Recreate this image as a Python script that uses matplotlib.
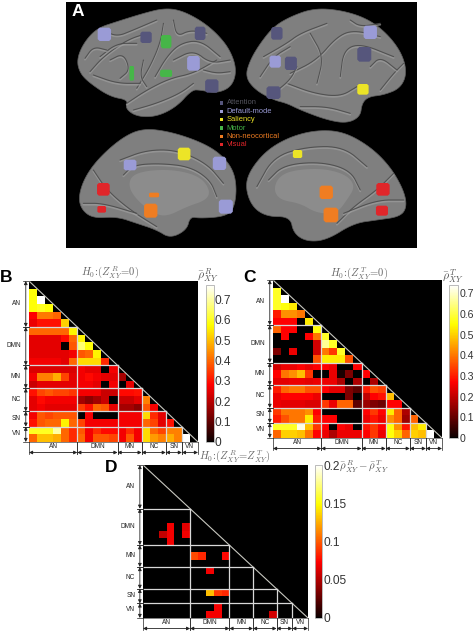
import numpy as np
import matplotlib
matplotlib.use("Agg")
import matplotlib.pyplot as plt
from matplotlib.patches import Polygon, Rectangle
from matplotlib.colors import Normalize, ListedColormap
from matplotlib.cm import ScalarMappable

plt.rcParams['font.family'] = ['Liberation Sans', 'DejaVu Sans']
plt.rcParams['mathtext.fontset'] = 'cm'

W, H = 474, 633
GROUPS = ['AN', 'DMN', 'MN', 'NC', 'SN', 'VN']
GROUP_SIZES = [6, 5, 3, 3, 2, 2]

RHO_R = [
 [],
 [.58],
 [.58,.78],
 [.58,.6,.58],
 [.28,.42,.42,.4],
 [.26,.3,.3,.3,.52],
 [.4,.4,.4,.4,.4,.56],
 [.25,.25,.25,.25,.29,.4,.56],
 [.25,.25,.25,.25,0,.38,.66,.58],
 [.25,.25,.25,.25,.25,.27,.38,.4,.56],
 [.27,.27,.27,.27,.25,.4,.53,.53,.53,.33],
 [.24,.24,.24,.24,.24,.24,.27,.25,.25,0,.27],
 [.27,.43,.43,.48,.36,.25,.27,.29,.27,.25,.25,.18],
 [.22,.25,.25,.25,.25,.25,.27,.27,.25,0,.27,0,.25],
 [.3,.36,.38,.36,.36,.34,.27,.27,.27,.22,.22,.29,.29,.3],
 [.25,.29,.27,.27,.27,.27,.18,.15,.18,.22,0,.22,.22,.25,.43],
 [.25,.27,.25,.25,.25,.25,.35,.3,.4,.38,.25,.18,.18,.15,.38,.27],
 [.27,.38,.36,.38,.38,.38,0,.27,0,0,0,.27,.27,.27,.53,.33,.25],
 [.3,.38,.4,.4,.56,.4,.36,.27,.27,.27,.27,.27,.27,.27,.4,.36,.25,.3],
 [.6,.6,.6,.7,.4,.33,.38,.27,.33,.29,.29,.27,.33,.27,.53,.4,.36,.43,.43],
 [.4,.5,.5,.48,.4,.33,.4,.27,.38,.38,.36,.27,.38,.27,.53,.46,.43,.48,.43,.78],
]
RHO_T = [
 [],
 [.58],
 [.58,.74],
 [.58,.56,.53],
 [.3,.43,.43,.4],
 [.27,.27,.27,0,.53],
 [.38,.27,.27,0,0,.56],
 [0,.27,0,0,.27,.4,.58],
 [0,0,0,0,0,.22,.66,.58],
 [.13,0,.25,0,0,.22,.4,.33,.58],
 [0,0,0,0,0,.36,.53,.53,.53,.36],
 [.22,.25,.25,.27,.25,.27,.27,.25,0,0,.27],
 [.27,.4,.43,.48,.33,0,0,.25,.02,.13,0,.27],
 [.24,.24,.25,.25,.24,.25,.25,.25,.18,0,.18,0,.18],
 [.3,.38,.4,.4,.36,.36,.27,.24,.24,.13,.09,.3,.36,.34],
 [.25,.27,.27,.27,.27,.25,0,0,0,.13,0,.2,.27,.29,.48],
 [.25,.24,.24,.24,.23,.23,.33,.25,.38,.38,.09,.16,.13,.11,.27,.27],
 [.33,.4,.4,.4,.43,.27,0,0,0,0,0,.27,.33,.27,.53,.38,.18],
 [.3,.36,.4,.4,.53,.3,.27,.27,0,0,0,.25,.29,.25,.43,.38,.16,.38],
 [.58,.58,.58,.72,.48,.33,.27,0,.27,.25,0,.29,.33,.27,.56,.43,.29,.48,.53],
 [.38,.5,.5,.48,.4,.27,.25,.18,.25,.25,.25,.27,.33,.25,.56,.5,.38,.5,.48,.74],
]
DIFF_ROW = [8, 8, 9, 9, 9, 10, 12, 12, 12, 14, 17, 17, 17, 19, 20, 20, 20]
DIFF_COL = [3, 5, 2, 3, 5, 3, 6, 7, 10, 8, 8, 9, 10, 9, 8, 9, 16]
DIFF_VAL = [.07, .065, .055, .07, .07, .07, .095, .085, .075, .07, .13, .09, .085, .07, .07, .07, .06]

# Panel A, in pixels of a 3x enlarged view of the picture
BRAIN_OUTLINES = [
 [(50,180),(70,130),(110,85),(170,65),(250,40),(310,25),(360,30),(420,60),(470,100),(510,150),(530,210),(515,260),(470,280),(420,270),(395,270),(350,320),(290,350),(230,350),(195,325),(205,300),(150,290),(90,250),(60,220)],
 [(555,230),(570,180),(600,130),(640,80),(690,50),(760,25),(840,30),(920,55),(980,100),(1025,160),(1040,220),(1020,265),(970,285),(925,290),(905,310),(900,350),(860,370),(800,360),(720,330),(680,310),(640,300),(585,270)],
 [(55,590),(75,530),(120,470),(190,410),(250,385),(330,395),(420,425),(480,460),(520,510),(530,570),(520,630),(490,650),(420,655),(390,650),(380,690),(330,715),(290,690),(230,670),(170,650),(100,655),(65,630)],
 [(555,560),(570,510),(620,450),(690,410),(770,390),(850,395),(930,440),(990,500),(1030,570),(1040,620),(1020,650),(950,660),(880,670),(800,720),(740,725),(700,700),(690,650),(620,650),(575,620)],
]
MEDIAL_WALLS = [
 [(205,560),(215,525),(270,510),(350,510),(420,530),(450,570),(440,600),(380,620),(320,650),(280,640),(230,600)],
 [(640,570),(655,530),(700,510),(790,505),(860,525),(885,560),(860,600),(830,640),(770,640),(720,610),(660,600)],
]
SULCI = [
 [(200,310),(260,270),(330,235),(400,220),(470,180)],
 [(230,265),(270,200),(300,130),(310,70)],
 [(285,230),(320,170),(360,130),(420,120),(480,170)],
 [(90,215),(130,170),(200,120),(260,100)],
 [(120,170),(170,130),(230,130)],
 [(100,225),(170,250),(240,250)],
 [(340,180),(400,150),(450,190),(510,180)],
 [(130,90),(170,110),(220,90),(290,60)],
 [(150,180),(190,160),(210,210),(180,235)],
 [(340,60),(350,110),(390,90),(440,100)],
 [(430,210),(470,220),(510,215)],
 [(220,330),(290,310),(360,280),(400,250)],
 [(250,180),(240,230),(260,260)],
 [(75,175),(100,140),(140,150)],
 [(680,250),(760,280),(840,290),(890,260)],
 [(610,170),(680,130),(720,100),(800,70)],
 [(690,220),(770,180),(830,110),(880,90),(960,110)],
 [(770,250),(790,170),(750,100)],
 [(840,230),(850,150),(900,130),(1000,170)],
 [(960,270),(1000,220),(1030,190)],
 [(600,230),(640,170),(690,140)],
 [(720,320),(800,320),(870,340)],
 [(640,280),(690,240),(710,200)],
 [(870,60),(900,80),(960,70)],
 [(930,200),(960,170),(1010,210)],
 [(190,525),(220,495),(300,490),(390,500),(450,540),(470,590)],
 [(180,480),(260,450),(350,450),(440,490),(490,550)],
 [(100,510),(140,570),(210,630),(290,680)],
 [(70,610),(130,610),(230,640)],
 [(625,540),(670,495),(780,485),(870,510),(900,570)],
 [(590,560),(640,470),(740,440),(850,440),(920,500)],
 [(1000,520),(950,570),(880,620),(830,670)],
 [(1030,600),(950,600),(850,640)],
]
PATCH_X = [133,258,420,400,455, 650,930,912,692,645,640,
           210,478,497,372,282,272,130,125, 712,798,812,968,965,
           318,215,318,908]
PATCH_Y = [103,112,100,190,258, 100,97,163,190,185,278,
           495,490,620,462,585,632,568,628, 462,577,645,568,632,
           220,220,125,268]
PATCH_W = [40,34,32,38,40, 34,40,42,36,34,42,
           38,40,42,38,30,40,38,26, 28,40,44,40,36,
           36,14,32,34]
PATCH_H = [40,34,40,44,40, 38,40,44,40,36,38,
           32,40,42,38,14,42,38,20, 24,40,44,38,30,
           22,44,40,32]
PATCH_CAT = ['D','A','A','D','A', 'A','D','A','A','D','A',
             'D','D','D','S','N','N','V','V', 'S','N','N','V','V',
             'M','M','M','S']
CATEGORY_KEYS = ['A','D','S','M','N','V']
CATEGORY_NAMES = ['Attention','Default-mode','Saliency','Motor','Non-neocortical','Visual']
CATEGORY_COLORS = ['#56567c','#9a9bd6','#ece427','#46b648','#ef7d22','#e0262a']
LEGEND_TEXT = ['#55555f','#9a9bd6','#ece427','#46b648','#ef7d22','#e0262a']

def chaikin(pts, n=3):
    p = np.array(pts, float)
    for _ in range(n):
        q = np.roll(p, -1, axis=0)
        p = np.column_stack([.75*p+.25*q, .25*p+.75*q]).reshape(-1, 2)
    return p

def chaikin_open(pts, n=3):
    p = np.array(pts, float)
    for _ in range(n):
        a, b = p[:-1], p[1:]
        mid = np.column_stack([.75*a+.25*b, .25*a+.75*b]).reshape(-1, 2)
        p = np.vstack([p[0], mid, p[-1]])
    return p

def cut_corners(x, y, w, h, f=.14):
    dx, dy = w*f, h*f
    l, r, t, b = x-w/2, x+w/2, y-h/2, y+h/2
    return [(l+dx, t), (r-dx, t), (r, t+dy), (r, b-dy), (r-dx, b), (l+dx, b), (l, b-dy), (l, t+dy)]

def axes_px(x0, y0, x1, y1, **kw):
    return fig.add_axes([x0/W, 1-y1/H, (x1-x0)/W, (y1-y0)/H], **kw)

fig = plt.figure(figsize=(W/100, H/100), dpi=100, facecolor='white')

# ---------- panel A ----------
axA = axes_px(66, 2, 417, 248, facecolor='black')
axA.set_xlim(18, 1070); axA.set_ylim(744, 6)
axA.set_xticks([]); axA.set_yticks([])
for s in axA.spines.values():
    s.set_visible(False)
for o in BRAIN_OUTLINES:
    axA.add_patch(Polygon(chaikin(o), closed=True, fc='#7f7f7f', ec='#5e5e5e', lw=.5))
for o in MEDIAL_WALLS:
    axA.add_patch(Polygon(chaikin(o), closed=True, fc='#8c8c8c', ec='none'))
for l in SULCI:
    c = chaikin_open(l)
    axA.plot(c[:, 0], c[:, 1]+4, color='#a0a0a0', lw=1.3, alpha=.65, solid_capstyle='round')
    axA.plot(c[:, 0], c[:, 1], color='#4c4c4c', lw=.8, alpha=.9, solid_capstyle='round')
cmapcat = dict(zip(CATEGORY_KEYS, CATEGORY_COLORS))
for x, y, w, h, k in zip(PATCH_X, PATCH_Y, PATCH_W, PATCH_H, PATCH_CAT):
    axA.add_patch(Polygon(cut_corners(x, y, w, h), closed=True, fc=cmapcat[k], ec='none', zorder=3))
for i, (name, col, tc) in enumerate(zip(CATEGORY_NAMES, CATEGORY_COLORS, LEGEND_TEXT)):
    y = 309+25*i
    axA.add_patch(Rectangle((479, y-5), 11, 10, fc=col, ec='none', zorder=4))
    axA.text(500, y, name, color=tc, fontsize=5.4, va='center', ha='left', zorder=4)
axA.text(36, 36, 'A', color='white', fontsize=12.5, fontweight='bold', va='center', ha='left')

# ---------- heat maps ----------
_hot = plt.get_cmap('hot')(np.linspace(0, 1, 256))
_hot[0] = (0, 0, 0, 1)
HOT = ListedColormap(_hot)

def full_matrix(rows):
    m = np.zeros((21, 21))
    for i, r in enumerate(rows):
        m[i, :len(r)] = r
    return m

def heat(box, cbox, m, vmax, ticks, ticklabels, title, title_xy, cblabel, cblabel_xy, letter, letter_xy,
         ticksize=8.6, labelsize=8.5):
    ax = axes_px(*box)
    norm = Normalize(0, vmax)
    ax.pcolormesh(np.arange(22), np.arange(22), m, cmap=HOT, norm=norm, rasterized=True)
    ax.set_xlim(0, 21); ax.set_ylim(21, 0)
    ax.set_xticks([]); ax.set_yticks([])
    for s in ax.spines.values():
        s.set_visible(False)
    row_px = (box[3]-box[1])/21
    edges = np.concatenate([[0], np.cumsum(GROUP_SIZES)])
    ax.plot([0, 21], [0, 21], color='#c8c8c0', lw=.8)
    for b in edges[1:-1]:
        ax.plot([0, b], [b, b], color='#d8d8d8', lw=.9)
        ax.plot([b, b], [b, 21], color='#d8d8d8', lw=.9)
    ytext = 21+4.5/row_px
    yarrow = 21+10.5/row_px
    ytick = 21+12/row_px
    for a, b, name in zip(edges[:-1], edges[1:], GROUPS):
        mid = (a+b)/2
        ax.text(mid, ytext, name, fontsize=4.7, ha='center', va='center', color='#222222', clip_on=False)
        ax.annotate('', xy=(a, yarrow), xytext=(b, yarrow), annotation_clip=False,
                    arrowprops=dict(arrowstyle='<|-|>,head_width=.1,head_length=.2', lw=.6, color='#222222', shrinkA=0, shrinkB=0))
        ax.plot([a, a], [21, ytick], color='#222222', lw=.5, clip_on=False)
        ax.plot([b, b], [21, ytick], color='#222222', lw=.5, clip_on=False)
        ax.annotate('', xy=(-.4, a), xytext=(-.4, b), annotation_clip=False,
                    arrowprops=dict(arrowstyle='<|-|>,head_width=.1,head_length=.2', lw=.6, color='#222222', shrinkA=0, shrinkB=0))
        ax.plot([-.8, 0], [a, a], color='#222222', lw=.5, clip_on=False)
        ax.plot([-.8, 0], [b, b], color='#222222', lw=.5, clip_on=False)
        ax.text(-1.0, mid-.1, name, fontsize=4.7, ha='right', va='center', color='#222222', clip_on=False)
    ax.plot([0, 21], [21, 21], color='#222222', lw=.4, clip_on=False)
    cax = axes_px(*cbox)
    cb = fig.colorbar(ScalarMappable(norm=norm, cmap=HOT), cax=cax)
    cb.set_ticks(ticks)
    cb.set_ticklabels(ticklabels)
    cb.ax.tick_params(length=0, labelsize=ticksize, pad=1, labelcolor='#333333')
    cb.outline.set_edgecolor('#b0b0b0')
    cb.outline.set_linewidth(.6)
    fig.text(title_xy[0]/W, 1-title_xy[1]/H, title, fontsize=7.6, color='#666666', ha='center', va='center')
    fig.text(cblabel_xy[0]/W, 1-cblabel_xy[1]/H, cblabel, fontsize=labelsize, color='#555555', ha='center', va='center')
    fig.text(letter_xy[0]/W, 1-letter_xy[1]/H, letter, fontsize=12.5, fontweight='bold', color='black', ha='center', va='center')

heat((29, 281, 198, 442), (206, 285, 213.5, 442), full_matrix(RHO_R), .77,
     [0, .1, .2, .3, .4, .5, .6, .7], ['0', '0.1', '0.2', '0.3', '0.4', '0.5', '0.6', '0.7'],
     r'$H_0\!:\!(Z^{\,R}_{XY}\!=\!0)$', (110, 273),
     r'$\bar{\rho}^{\,R}_{XY}$', (208, 275), 'B', (6, 278))

heat((273, 280, 442, 438), (449, 285, 458, 438), full_matrix(RHO_T), .74,
     [0, .1, .2, .3, .4, .5, .6, .7], ['0', '0.1', '0.2', '0.3', '0.4', '0.5', '0.6', '0.7'],
     r'$H_0\!:\!(Z^{\,T}_{XY}\!=\!0)$', (359, 274),
     r'$\bar{\rho}^{\,T}_{XY}$', (453, 276), 'C', (250, 278), ticksize=7.6)

D = np.zeros((21, 21))
D[DIFF_ROW, DIFF_COL] = DIFF_VAL
heat((143, 465, 308, 618), (315, 465, 322, 618), D, .2,
     [0, .05, .1, .15, .2], ['0', '0.05', '0.1', '0.15', '0.2'],
     r'$H_0\!:\!(Z^{\,R}_{XY}\!=\!Z^{\,T}_{XY})$', (235, 457),
     r'$\bar{\rho}^{\,R}_{XY}-\bar{\rho}^{\,T}_{XY}$', (364, 467), 'D', (111, 468), labelsize=7.8)

fig.savefig('out.png', dpi=100)
